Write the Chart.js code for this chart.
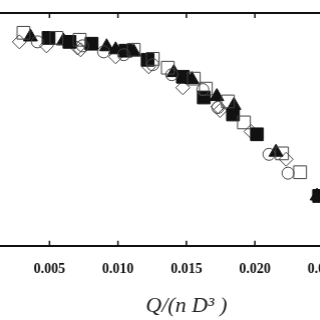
<!DOCTYPE html>
<html>
<head>
  <meta charset="UTF-8">
  <title>Q/(n D^3) scatter</title>
  <script src="https://cdn.jsdelivr.net/npm/chart.js"></script>
  <style>
    body {
      margin: 0;
      padding: 0;
      background: #fff;
      overflow: hidden;
    }
    #frame {
      position: relative;
      width: 320px;
      height: 320px;
      overflow: hidden;
    }
    /* the plot is wider than the window, like the cropped original */
    #plot {
      position: absolute;
      left: -51.3px;
      top: 0;
      width: 473.8px;
      height: 320px;
    }
  </style>
</head>
<body>
  <div id="frame">
    <div id="plot"><canvas id="chart"></canvas></div>
  </div>

  <script>
    // flow coefficient Q/(nD^3) and (normalised) vertical value for each symbol set
    const diamondQ = [0.0028, 0.00478, 0.00705, 0.00727, 0.00983, 0.01225, 0.01474, 0.0173, 0.01745, 0.01971, 0.02228];
    const diamondY = [0.876, 0.859, 0.850, 0.842, 0.812, 0.769, 0.679, 0.598, 0.581, 0.491, 0.372];

    const triangleQ = [0.00361, 0.00602, 0.00917, 0.00983, 0.01115, 0.01408, 0.0154, 0.01722, 0.01847, 0.02154, 0.02454];
    const triangleY = [0.897, 0.880, 0.855, 0.842, 0.833, 0.744, 0.714, 0.641, 0.603, 0.402, 0.214];

    const fSquareQ = [0.00493, 0.00646, 0.00807, 0.01056, 0.01217, 0.01474, 0.01627, 0.0184, 0.02015, 0.02469];
    const fSquareY = [0.893, 0.876, 0.868, 0.838, 0.799, 0.726, 0.637, 0.564, 0.479, 0.214];

    const oSquareQ = [0.0031, 0.00551, 0.0072, 0.01115, 0.01254, 0.01364, 0.01554, 0.01642, 0.01803, 0.0192, 0.02198, 0.0233];
    const oSquareY = [0.915, 0.893, 0.885, 0.842, 0.803, 0.765, 0.718, 0.675, 0.620, 0.530, 0.397, 0.316];

    const circleQ = [0.00412, 0.00742, 0.00895, 0.01042, 0.01254, 0.01393, 0.0162, 0.0173, 0.02103, 0.02242];
    const circleY = [0.876, 0.859, 0.833, 0.821, 0.778, 0.735, 0.671, 0.594, 0.393, 0.312];

    const xTicks = [0, 0.005, 0.010, 0.015, 0.020, 0.025, 0.030];

    function toPoints(xs, ys) {
      return xs.map((x, i) => ({ x: x, y: ys[i] }));
    }

    // top frame line + inward tick marks on top and bottom
    const frameTicks = {
      id: 'frameTicks',
      afterDraw(chart) {
        const ctx = chart.ctx;
        const area = chart.chartArea;
        const xs = chart.scales.x;
        ctx.save();
        ctx.strokeStyle = '#111';
        ctx.lineWidth = 2;
        ctx.beginPath();
        ctx.moveTo(area.left, area.top);
        ctx.lineTo(area.right, area.top);
        ctx.stroke();
        ctx.lineWidth = 1.5;
        xTicks.forEach(v => {
          const px = xs.getPixelForValue(v);
          ctx.beginPath();
          ctx.moveTo(px, area.top);
          ctx.lineTo(px, area.top + 5);
          ctx.moveTo(px, area.bottom);
          ctx.lineTo(px, area.bottom - 5);
          ctx.stroke();
        });
        ctx.restore();
      }
    };

    const ctx = document.getElementById('chart').getContext('2d');
    new Chart(ctx, {
      type: 'scatter',
      data: {
        datasets: [
          {
            label: 'open square',
            data: toPoints(oSquareQ, oSquareY),
            pointStyle: 'rect',
            pointRadius: 9,
            backgroundColor: 'rgba(0,0,0,0)',
            borderColor: '#444',
            borderWidth: 1
          },
          {
            label: 'open circle',
            data: toPoints(circleQ, circleY),
            pointStyle: 'circle',
            pointRadius: 6,
            backgroundColor: 'rgba(0,0,0,0)',
            borderColor: '#444',
            borderWidth: 1
          },
          {
            label: 'filled triangle',
            data: toPoints(triangleQ, triangleY),
            pointStyle: 'triangle',
            pointRadius: 8,
            backgroundColor: '#111',
            borderColor: '#111',
            borderWidth: 1
          },
          {
            label: 'filled square',
            data: toPoints(fSquareQ, fSquareY),
            pointStyle: 'rect',
            pointRadius: 9,
            backgroundColor: '#111',
            borderColor: '#111',
            borderWidth: 1
          },
          {
            label: 'open diamond',
            data: toPoints(diamondQ, diamondY),
            pointStyle: 'rectRot',
            pointRadius: 7,
            backgroundColor: 'rgba(0,0,0,0)',
            borderColor: '#444',
            borderWidth: 1
          }
        ]
      },
      options: {
        responsive: true,
        maintainAspectRatio: false,
        animation: false,
        layout: {
          padding: { left: 32, right: 32, top: 13, bottom: 0 }
        },
        plugins: {
          legend: { display: false },
          tooltip: { enabled: false }
        },
        scales: {
          x: {
            type: 'linear',
            min: 0,
            max: 0.030,
            grid: { display: false, drawTicks: false },
            border: { display: true, color: '#111', width: 2 },
            ticks: {
              stepSize: 0.005,
              includeBounds: false,
              padding: 15,
              color: '#111',
              font: { family: 'Liberation Serif', size: 14, weight: 'bold' },
              callback: v => v.toFixed(3)
            },
            title: {
              display: true,
              text: 'Q/(n D\u00B3 )',
              color: '#222',
              padding: { top: 0, bottom: 1 },
              font: { family: 'Liberation Serif', size: 22, style: 'italic' }
            }
          },
          y: {
            display: false,
            min: 0,
            max: 1
          }
        }
      },
      plugins: [frameTicks]
    });
  </script>
</body>
</html>
